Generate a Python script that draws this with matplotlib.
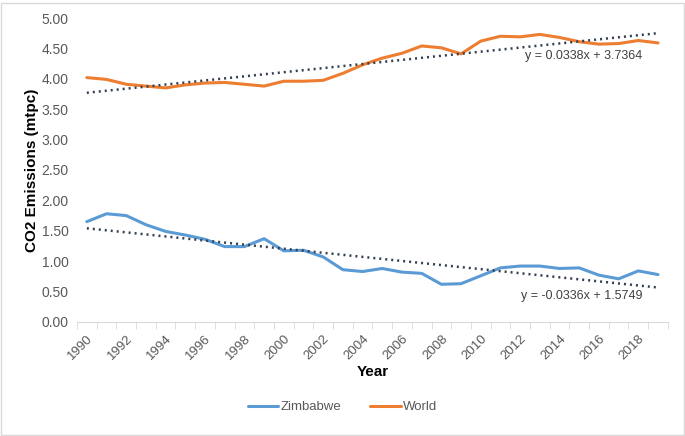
import matplotlib
matplotlib.use("Agg")
import matplotlib.pyplot as plt
from matplotlib.patches import Rectangle
import numpy as np

years = list(range(1990, 2020))
zimbabwe = [1.65, 1.78, 1.75, 1.60, 1.49, 1.43, 1.36, 1.24, 1.24, 1.37,
            1.17, 1.18, 1.07, 0.86, 0.83, 0.88, 0.82, 0.80, 0.62, 0.63,
            0.76, 0.89, 0.92, 0.92, 0.88, 0.89, 0.77, 0.71, 0.84, 0.78]
world = [4.02, 3.99, 3.91, 3.88, 3.85, 3.90, 3.93, 3.94, 3.91, 3.88,
         3.96, 3.96, 3.975, 4.09, 4.23, 4.34, 4.42, 4.54, 4.51, 4.41,
         4.62, 4.70, 4.69, 4.73, 4.68, 4.61, 4.57, 4.58, 4.63, 4.59]
# Excel trendline coefficients (x = 1..n)
trend_zim = (-0.0336, 1.5749)
trend_world = (0.0338, 3.7364)

plt.rcParams['font.family'] = ['Liberation Sans', 'DejaVu Sans']

fig = plt.figure(figsize=(6.85, 4.36), dpi=100)
ax = fig.add_axes([0.1124, 0.2615, 0.8626, 0.6972])

x = np.arange(len(years))
n = np.arange(1, len(years) + 1)
ax.plot(x, zimbabwe, color='#5B9BD5', lw=2.2, label='Zimbabwe', solid_capstyle='round')
ax.plot(x, world, color='#ED7D31', lw=2.2, label='World', solid_capstyle='round')
ax.plot(x, trend_zim[0] * n + trend_zim[1], color='#333F50', lw=1.8, ls=(0, (0.8, 1.6)))
ax.plot(x, trend_world[0] * n + trend_world[1], color='#333F50', lw=1.8, ls=(0, (0.8, 1.6)))

ax.text(28.2, 4.37, 'y = 0.0338x + 3.7364', ha='right', va='center', fontsize=9, color='#404040')
ax.text(28.2, 0.43, 'y = -0.0336x + 1.5749', ha='right', va='center', fontsize=9, color='#404040')

ax.set_xlim(-0.5, len(years) - 0.5)
ax.set_ylim(0, 5)
ax.set_yticks(np.arange(0, 5.01, 0.5))
ax.set_yticklabels([f'{v:.2f}' for v in np.arange(0, 5.01, 0.5)])
ax.set_xticks(x[::2])
ax.set_xticklabels([str(y) for y in years[::2]], rotation=45, ha='right', rotation_mode='anchor')
ax.set_xticks(np.arange(-0.5, len(years)), minor=True)
ax.tick_params(axis='x', which='major', length=0, labelsize=9.5, colors='#595959', pad=8)
ax.tick_params(axis='x', which='minor', length=5, color='#D9D9D9', direction='out')
ax.tick_params(axis='y', length=0, labelsize=10, colors='#595959', pad=6)

for s in ['top', 'right', 'left']:
    ax.spines[s].set_visible(False)
ax.spines['bottom'].set_color('#D9D9D9')

ax.set_xlabel('Year', fontsize=11, fontweight='bold', labelpad=2)
ax.set_ylabel('CO2 Emissions (mtpc)', fontsize=11, fontweight='bold', labelpad=2)

fig.legend(loc='lower center', bbox_to_anchor=(0.5, 0.025), ncol=2, frameon=False,
           fontsize=9.5, handlelength=2.3, handletextpad=0.2, columnspacing=2.2,
           labelcolor='#595959')

fig.patches.append(Rectangle((0.002, 0.002), 0.996, 0.99, transform=fig.transFigure,
                             fill=False, edgecolor='#D9D9D9', lw=1))

fig.savefig('out.png', dpi=100)
